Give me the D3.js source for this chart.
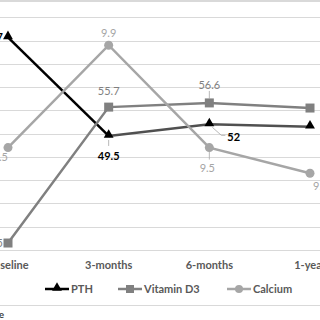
<!DOCTYPE html>
<html>
<head>
<meta charset="utf-8">
<script src="https://cdn.jsdelivr.net/npm/d3@7"></script>
<style>
  html, body { margin: 0; padding: 0; background: #fff; }
  svg { display: block; font-family: Lato, "Open Sans", sans-serif; }
</style>
</head>
<body>
<svg width="320" height="320"></svg>
<script>
const categories = ['Baseline', '3-months', '6-months', '1-year'];
const pth = [70.7, 49.5, 52, 51.5];
const vitaminD3 = [26.5, 55.7, 56.6, 55.5];
const calcium = [9.5, 9.9, 9.5, 9.4];
const primaryTicks = [25, 30, 35, 40, 45, 50, 55, 60, 65, 70, 75, 80];

const svg = d3.select('svg');
const width = +svg.attr('width');

const x = d3.scalePoint().domain(categories).range([8, 310]);
const y = d3.scaleLinear().domain([25, 80]).range([250, -6]);
const y2 = d3.scaleLinear().domain([9.1, 10.1]).range([250, -6]);

// top border + gridlines
svg.append('line')
  .attr('x1', 0).attr('x2', width).attr('y1', 1).attr('y2', 1)
  .attr('stroke', '#d9d9d9').attr('stroke-width', 2);

svg.append('g')
  .selectAll('line')
  .data(primaryTicks)
  .enter()
  .append('line')
  .attr('x1', 0).attr('x2', width)
  .attr('y1', (d) => Math.round(y(d)) + 0.5)
  .attr('y2', (d) => Math.round(y(d)) + 0.5)
  .attr('stroke', '#d9d9d9')
  .attr('stroke-width', 1);

// category labels
svg.append('g')
  .selectAll('text')
  .data(categories)
  .enter()
  .append('text')
  .attr('x', (d) => x(d))
  .attr('y', 269)
  .attr('text-anchor', 'middle')
  .attr('font-size', '11px')
  .attr('font-weight', 700)
  .attr('fill', '#595959')
  .text((d) => d);

const pthPts = categories.map((c, i) => [x(c), y(pth[i])]);
const vitPts = categories.map((c, i) => [x(c), y(vitaminD3[i])]);
const calPts = categories.map((c, i) => [x(c), y2(calcium[i])]);
const line = d3.line();

// PTH: first segment black, the rest dark grey
svg.append('path')
  .attr('d', line(pthPts.slice(1)))
  .attr('fill', 'none').attr('stroke', '#505050').attr('stroke-width', 2.5);
svg.append('path')
  .attr('d', line(pthPts.slice(0, 2)))
  .attr('fill', 'none').attr('stroke', '#000').attr('stroke-width', 2.5);

svg.append('path')
  .attr('d', line(vitPts))
  .attr('fill', 'none').attr('stroke', '#808080').attr('stroke-width', 2.5);

svg.append('path')
  .attr('d', line(calPts))
  .attr('fill', 'none').attr('stroke', '#a6a6a6').attr('stroke-width', 2.5);

const tri = d3.symbol().type(d3.symbolTriangle).size(42);
svg.append('g')
  .selectAll('path')
  .data(pthPts)
  .enter()
  .append('path')
  .attr('d', tri)
  .attr('transform', (d) => `translate(${d[0]},${d[1] - 1})`)
  .attr('fill', '#000');

svg.append('g')
  .selectAll('rect')
  .data(vitPts)
  .enter()
  .append('rect')
  .attr('x', (d) => d[0] - 4.5)
  .attr('y', (d) => d[1] - 4.5)
  .attr('width', 9).attr('height', 9)
  .attr('fill', '#808080');

svg.append('g')
  .selectAll('circle')
  .data(calPts)
  .enter()
  .append('circle')
  .attr('cx', (d) => d[0]).attr('cy', (d) => d[1])
  .attr('r', 4.5)
  .attr('fill', '#a6a6a6');

// leader lines
const leaders = [
  [[x('3-months'), y(pth[1]) + 4], [x('3-months'), y(pth[1]) + 10]],
  [[x('6-months') + 3, y(pth[2]) + 3], [x('6-months') + 12, y(pth[2]) + 11], [x('6-months') + 16, y(pth[2]) + 11]],
  [[x('6-months'), y(vitaminD3[2]) - 4], [x('6-months'), y(vitaminD3[2]) - 12]],
  [[x('6-months'), y2(calcium[2]) + 4], [x('6-months'), y2(calcium[2]) + 12]]
];
svg.append('g')
  .selectAll('path')
  .data(leaders)
  .enter()
  .append('path')
  .attr('d', (d) => line(d))
  .attr('fill', 'none').attr('stroke', '#a6a6a6').attr('stroke-width', 0.8);

// data labels
const labels = [
  { t: pth[0], x: x('Baseline') - 5, y: y(pth[0]) + 4, a: 'end', c: '#000', w: 700 },
  { t: pth[1], x: x('3-months'), y: y(pth[1]) + 24, a: 'middle', c: '#000', w: 700 },
  { t: pth[2], x: x('6-months') + 18, y: y(pth[2]) + 17, a: 'start', c: '#000', w: 700 },
  { t: vitaminD3[0], x: x('Baseline') - 5, y: y(vitaminD3[0]) + 4, a: 'end', c: '#7f7f7f', w: 400 },
  { t: vitaminD3[1], x: x('3-months'), y: y(vitaminD3[1]) - 12, a: 'middle', c: '#7f7f7f', w: 400 },
  { t: vitaminD3[2], x: x('6-months'), y: y(vitaminD3[2]) - 14, a: 'middle', c: '#7f7f7f', w: 400 },
  { t: calcium[0], x: x('Baseline'), y: y2(calcium[0]) + 13, a: 'end', c: '#a5a5a5', w: 400 },
  { t: calcium[1], x: x('3-months'), y: y2(calcium[1]) - 8, a: 'middle', c: '#a5a5a5', w: 400 },
  { t: calcium[2], x: x('6-months') - 2, y: y2(calcium[2]) + 24, a: 'middle', c: '#a5a5a5', w: 400 },
  { t: calcium[3], x: x('1-year') + 3, y: y2(calcium[3]) + 17, a: 'start', c: '#a5a5a5', w: 400 }
];
svg.append('g')
  .selectAll('text')
  .data(labels)
  .enter()
  .append('text')
  .attr('x', (d) => d.x).attr('y', (d) => d.y)
  .attr('text-anchor', (d) => d.a)
  .attr('font-size', '11px')
  .attr('font-weight', (d) => d.w)
  .attr('fill', (d) => d.c)
  .text((d) => d.t);

// legend
const legend = [
  { name: 'PTH', x: 45, c: '#000', shape: 'tri' },
  { name: 'Vitamin D3', x: 118, c: '#808080', shape: 'sq' },
  { name: 'Calcium', x: 227, c: '#a6a6a6', shape: 'ci' }
];
const lg = svg.append('g').selectAll('g').data(legend).enter().append('g')
  .attr('transform', (d) => `translate(${d.x},289)`);
lg.append('line').attr('x1', 0).attr('x2', 24).attr('stroke', (d) => d.c).attr('stroke-width', 2.5);
lg.filter((d) => d.shape === 'tri').append('path').attr('d', tri).attr('transform', 'translate(12,-1)').attr('fill', '#000');
lg.filter((d) => d.shape === 'sq').append('rect').attr('x', 8).attr('y', -4).attr('width', 8).attr('height', 8).attr('fill', '#808080');
lg.filter((d) => d.shape === 'ci').append('circle').attr('cx', 12).attr('r', 4).attr('fill', '#a6a6a6');
lg.append('text')
  .attr('x', 26).attr('y', 4)
  .attr('font-size', '11px').attr('font-weight', 700)
  .attr('fill', '#595959')
  .text((d) => d.name);

// bottom rule and caption fragment
svg.append('line')
  .attr('x1', 0).attr('x2', width).attr('y1', 305.5).attr('y2', 305.5)
  .attr('stroke', '#d9d9d9').attr('stroke-width', 1);
svg.append('text')
  .attr('x', 4).attr('y', 318)
  .attr('text-anchor', 'end')
  .attr('font-size', '10px').attr('font-weight', 700)
  .attr('fill', '#404040')
  .text('Source');
</script>
</body>
</html>
